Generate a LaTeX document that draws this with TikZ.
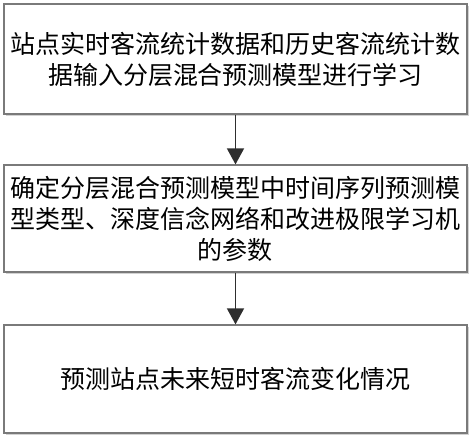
\documentclass[tikz,border=0pt]{standalone}
\usepackage{fontspec}
\newfontfamily\cjk{Noto Sans CJK SC}
\usetikzlibrary{arrows.meta,shadows,positioning}
\definecolor{BoxGray}{HTML}{7A7A7A}
\definecolor{ArrowInk}{HTML}{2E2E2E}
\tikzset{
    block/.style = {draw=BoxGray, rectangle, line width=1.2pt, fill=white,
        text width=455pt, inner xsep=4pt, inner ysep=0pt, align=center,
        font=\cjk\fontsize{25}{31}\selectfont,
        drop shadow={shadow xshift=1.8pt, shadow yshift=-1.8pt, fill=gray!35, opacity=1}},
    arrow/.style = {draw=ArrowInk, line width=1.5pt,
        -{Triangle[width=17pt,length=16pt]}}
}
\begin{document}
\begin{tikzpicture}
        \useasboundingbox (0,0) rectangle (474pt,-440pt);
        \node[block, minimum height=110pt] (learn) at (235.5pt,-59pt)
            {站点实时客流统计数据和历史客流统计数\\据输入分层混合预测模型进行学习};
        \node[block, minimum height=107pt] (param) at (235.5pt,-218.5pt)
            {确定分层混合预测模型中时间序列预测模\\型类型、深度信念网络和改进极限学习机\\的参数};
        \node[block, minimum height=108pt] (forecast) at (235.5pt,-379pt)
            {预测站点未来短时客流变化情况};
        \draw[arrow] (learn) -- (param);
        \draw[arrow] (param) -- (forecast);
\end{tikzpicture}
\end{document}
